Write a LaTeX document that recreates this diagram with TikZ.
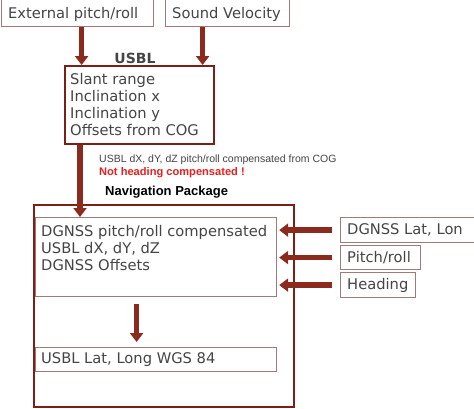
\documentclass[tikz,border=0pt]{standalone}
\usepackage{fontspec}
\setmainfont{DejaVu Sans}
\newfontfamily\arialf{Liberation Sans}
\usetikzlibrary{arrows.meta}
\definecolor{txtgray}{HTML}{454545}
\definecolor{boxred}{HTML}{7A2016}
\definecolor{arrred}{HTML}{8A2B1E}
\definecolor{thinbrown}{HTML}{A07A78}
\definecolor{notred}{HTML}{E8201E}
\tikzset{
  thinbox/.style={draw=thinbrown, line width=1.2pt, inner sep=0pt, anchor=north west},
  boldbox/.style={draw=boxred, line width=2pt, inner sep=0pt, anchor=north west},
  maintext/.style={text=txtgray, font=\fontsize{14.7}{17}\selectfont, align=left, inner sep=0pt},
  bigarrow/.style={draw=arrred, line width=5.5pt, -{Triangle[width=13pt,length=9pt]}},
}
\begin{document}
\begin{tikzpicture}[x=1pt,y=-1pt]
\clip (0,0) rectangle (474,408);
\fill[white] (0,0) rectangle (474,408);
% top input boxes
\node[thinbox, minimum width=152pt, minimum height=29pt] (ext) at (1,-3) {};
\node[maintext, anchor=west] (extt) at (8,14) {External pitch/roll};
\node[thinbox, minimum width=124pt, minimum height=29pt] (sv) at (165,-3) {};
\node[maintext, anchor=west] (svt) at (172,14) {Sound Velocity};
% USBL
\node[text=txtgray, font=\bfseries\fontsize{14}{16}\selectfont, inner sep=0pt] (usbllab) at (135,58) {USBL};
\node[boldbox, minimum width=149pt, minimum height=78pt] (usbl) at (64,65) {};
\node[maintext, anchor=north west] (usblt) at (70,73.5) {Slant range\\Inclination x\\Inclination y\\Offsets from COG};
% annotation
\node[anchor=west, inner sep=0pt, text=txtgray, font=\arialf\fontsize{10.5}{12}\selectfont] (ann1) at (99,160) {USBL dX, dY, dZ pitch/roll compensated from COG};
\node[anchor=west, inner sep=0pt, text=notred, font=\arialf\bfseries\fontsize{11.1}{13}\selectfont] (ann2) at (99,172.5) {Not heading compensated !};
\node[anchor=west, inner sep=0pt, text=black, font=\arialf\bfseries\fontsize{13}{15}\selectfont] (navlab) at (105,192.5) {Navigation Package};
% navigation package
\node[boldbox, minimum width=260pt, minimum height=202pt] (nav) at (33,204) {};
\node[thinbox, minimum width=241pt, minimum height=79pt] (in1) at (35,217) {};
\node[maintext, anchor=north west] (in1t) at (41,225) {DGNSS pitch/roll compensated\\USBL dX, dY, dZ\\DGNSS Offsets};
\node[thinbox, minimum width=241pt, minimum height=24pt] (in2) at (35,347) {};
\node[maintext, anchor=west] (in2t) at (41,359.5) {USBL Lat, Long WGS 84};
% right inputs
\node[thinbox, minimum width=134pt, minimum height=25pt] (dg) at (340,217) {};
\node[maintext, anchor=west] (dgt) at (347,230) {DGNSS Lat, Lon};
\node[thinbox, minimum width=80pt, minimum height=24pt] (pr) at (340,245) {};
\node[maintext, anchor=west] (prt) at (347,257.5) {Pitch/roll};
\node[thinbox, minimum width=75pt, minimum height=25pt] (hd) at (340,272) {};
\node[maintext, anchor=west] (hdt) at (347,285) {Heading};
% arrows
\draw[bigarrow] ([xshift=4pt]ext.south) -- ([xshift=4pt]ext.south |- usbl.north);
\draw[bigarrow] ([xshift=-25pt]sv.south) -- ([xshift=-25pt]sv.south |- usbl.north);
\draw[bigarrow] ([xshift=16pt]usbl.south west) -- ([xshift=16pt]usbl.south west |- in1.north);
\draw[bigarrow, shorten <=8pt, shorten >=2pt] (dg.west) -- (dg.west -| in1.east);
\draw[bigarrow, shorten <=8pt, shorten >=2pt] (pr.west) -- (pr.west -| in1.east);
\draw[bigarrow, shorten <=8pt, shorten >=2pt] (hd.west) -- (hd.west -| in1.east);
\draw[bigarrow, shorten <=7pt, shorten >=5pt] ([xshift=-19.5pt]in1.south) -- ([xshift=-19.5pt]in1.south |- in2.north);
\end{tikzpicture}
\end{document}
